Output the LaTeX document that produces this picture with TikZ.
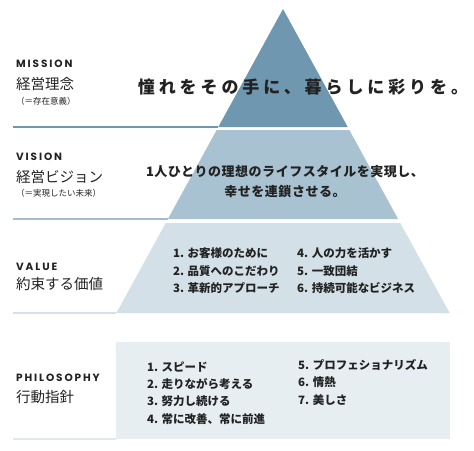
\documentclass[tikz,border=0pt]{standalone}
\usepackage{fontspec}
\usetikzlibrary{positioning}
\newfontfamily\jpfont{Noto Sans CJK JP}
\newfontfamily\jpspaced[LetterSpace=23]{Noto Sans CJK JP}
\newfontfamily\jpwide[LetterSpace=4]{Noto Sans CJK JP}
\newfontfamily\enfont[LetterSpace=18]{Poppins}
\definecolor{tierA}{RGB}{111,152,176}
\definecolor{tierB}{RGB}{168,194,209}
\definecolor{tierC}{RGB}{211,224,231}
\definecolor{tierD}{RGB}{231,238,242}
\definecolor{lineA}{RGB}{111,152,176}
\definecolor{lineB}{RGB}{164,189,204}
\definecolor{lineC}{RGB}{214,224,230}
\definecolor{lineD}{RGB}{226,232,236}
\definecolor{ink}{RGB}{34,34,34}

\begin{document}
\begin{tikzpicture}[x=1pt,y=-1pt,node distance=17pt,on grid,
  tag/.style={font=\enfont\bfseries\fontsize{10.5}{12}\selectfont,text=ink,inner sep=0pt,anchor=west},
  jpname/.style={font=\jpfont\fontsize{14.5}{16}\selectfont,text=ink,inner sep=0pt,anchor=west},
  jpnote/.style={font=\jpfont\fontsize{8.5}{10}\selectfont,text=ink,inner sep=0pt,anchor=west},
  listtxt/.style={font=\jpfont\bfseries\fontsize{11.5}{17.4}\selectfont,text=ink,inner sep=0pt,align=left,anchor=west},
  rule/.style={line width=1.2pt}]
\useasboundingbox[fill=white] (0,0) rectangle (474,450);

% pyramid tiers
\coordinate (apex) at (283,9);
\coordinate (a_bl) at (218.3,127);
\coordinate (a_br) at (347.7,127);
\coordinate (b_tl) at (216.7,130);
\coordinate (b_tr) at (349.3,130);
\coordinate (b_bl) at (167.9,219);
\coordinate (b_br) at (398.1,219);
\coordinate (c_tl) at (165.7,223);
\coordinate (c_tr) at (400.3,223);
\coordinate (c_bl) at (116.4,313);
\coordinate (c_br) at (449.6,313);
\fill[tierA] (apex) -- (a_br) -- (a_bl) -- cycle;
\fill[tierB] (b_tl) -- (b_tr) -- (b_br) -- (b_bl) -- cycle;
\fill[tierC] (c_tl) -- (c_tr) -- (c_br) -- (c_bl) -- cycle;
\fill[tierD] (116,342) rectangle (450,439);
\coordinate (d_bl) at (116,439);

% rules on the left
\coordinate (r_a) at (13,127);
\coordinate (r_b) at (13,219);
\coordinate (r_c) at (13,313);
\coordinate (r_d) at (13,439);
\draw[rule,lineA] (r_a) -- (a_bl);
\draw[rule,lineB] (r_b) -- (b_bl);
\draw[rule,lineC] (r_c) -- (c_bl);
\draw[rule,lineD] (r_d) -- (d_bl);

% labels
\node[tag] (mission) at (16,64) {MISSION};
\node[jpname] (mission_jp) [below=20pt of mission.west,anchor=west] {経営理念};
\node[jpnote] (mission_note) [below=17pt of mission_jp.west,anchor=west] {（＝存在意義）};

\node[tag] (vision) at (16,157) {VISION};
\node[jpname] (vision_jp) [below=20pt of vision.west,anchor=west] {経営ビジョン};
\node[jpnote] (vision_note) [below=16pt of vision_jp.west,anchor=west] {（＝実現したい未来）};

\node[tag] (value) at (16,267) {VALUE};
\node[jpname] (value_jp) [below=17pt of value.west,anchor=west] {約束する価値};

\node[tag] (philosophy) at (16,378) {PHILOSOPHY};
\node[jpname] (philosophy_jp) [below=19pt of philosophy.west,anchor=west] {行動指針};

% statements
\node[font=\jpspaced\bfseries\fontsize{17}{20}\selectfont,text=ink,inner sep=0pt] (mission_txt) at (303,87) {憧れをその手に、暮らしに彩りを。};
\node[font=\jpwide\bfseries\fontsize{13}{20}\selectfont,text=ink,inner sep=0pt,align=center] (vision_txt) at (285,182) {1人ひとりの理想のライフスタイルを実現し、\\幸せを連鎖させる。};

% lists
\node[listtxt] (value_l) at (173,271) {1. お客様のために\\2. 品質へのこだわり\\3. 革新的アプローチ};
\node[listtxt] (value_r) [right=124pt of value_l.west,anchor=west] {4. 人の力を活かす\\5. 一致団結\\6. 持続可能なビジネス};
\node[listtxt] (philo_l) at (147,393) {1. スピード\\2. 走りながら考える\\3. 努力し続ける\\4. 常に改善、常に前進};
\node[listtxt,anchor=north west] (philo_r) at (298,359) {5. プロフェショナリズム\\6. 情熱\\7. 美しさ};
\end{tikzpicture}
\end{document}
